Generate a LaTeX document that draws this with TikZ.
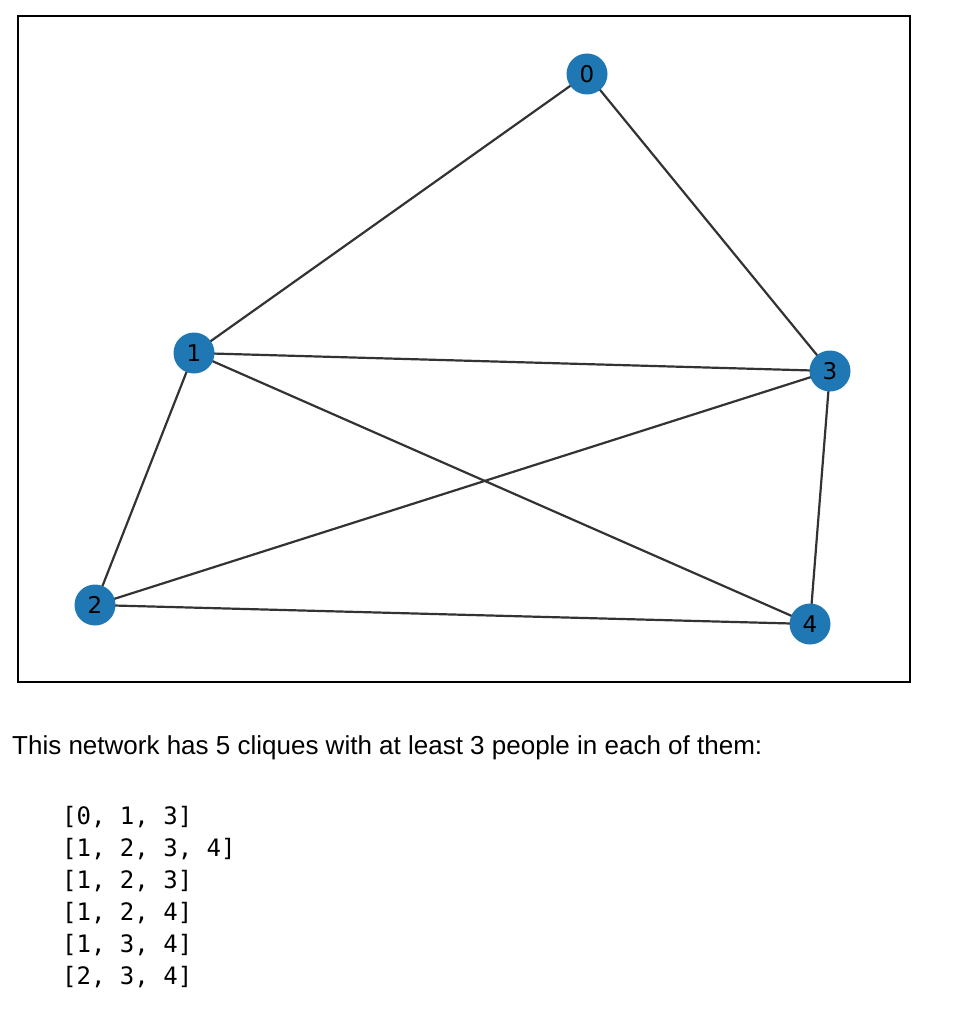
\documentclass[tikz,border=0pt]{standalone}
\usepackage{fontspec}
\setmainfont{Liberation Sans}
\newfontfamily\dv{DejaVu Sans}
\newfontfamily\dvm{DejaVu Sans Mono}
\definecolor{nb}{HTML}{1F77B4}
\begin{document}
\begin{tikzpicture}[x=1pt,y=-1pt,
  vtx/.style={circle,fill=nb,minimum size=41pt,inner sep=0pt,font=\dv\fontsize{23}{23}\selectfont},
  edge/.style={draw=black!80,line width=2.2pt}]
\useasboundingbox (0,0) rectangle (963,1024);
\draw[line width=1.5pt] (18,16) rectangle (910,682);
\coordinate (c0) at (587,74);
\coordinate (c1) at (194,353);
\coordinate (c3) at (830,371);
\coordinate (c2) at (95,605);
\coordinate (c4) at (810,624);
\foreach \a/\b in {c0/c1,c0/c3,c1/c3,c1/c2,c1/c4,c3/c2,c3/c4,c2/c4}
  \draw[edge] (\a) -- (\b);
\foreach \n in {0,1,2,3,4}
  \node[vtx] (n\n) at (c\n) {\n};
\node[anchor=west,inner sep=0pt,font=\fontsize{26}{30}\selectfont] (cap) at (12,748) {This network has 5 cliques with at least 3 people in each of them:};
\node[anchor=north west,inner sep=0pt,align=left,font=\dvm\fontsize{24}{32}\selectfont] (lst) at (62,806)
{[0, 1, 3]\\{}[1, 2, 3, 4]\\{}[1, 2, 3]\\{}[1, 2, 4]\\{}[1, 3, 4]\\{}[2, 3, 4]};
\end{tikzpicture}
\end{document}
